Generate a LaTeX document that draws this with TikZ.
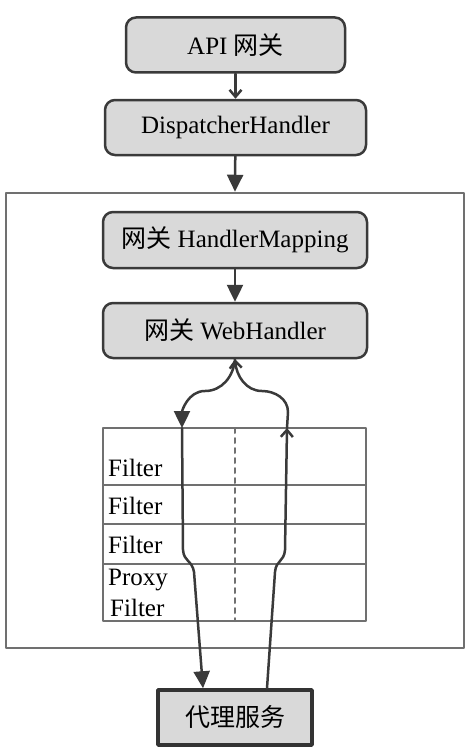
\documentclass[tikz,border=0pt]{standalone}
\usepackage{fontspec}
\setmainfont{Liberation Serif}
\newfontfamily\cjk{Noto Sans CJK SC}
\usetikzlibrary{arrows.meta}
\definecolor{boxfill}{HTML}{D9D9D9}
\definecolor{ink}{HTML}{3A3A3A}
\definecolor{rule}{HTML}{707070}
\tikzset{
  box/.style={draw=ink, fill=boxfill, line width=2.5pt, rounded corners=10pt, minimum height=55pt},
  frame/.style={draw=rule, line width=2.5pt},
  tbl/.style={draw=rule, line width=2pt},
  lbl/.style={inner sep=0pt, anchor=base west},
  flow/.style={draw=ink, line width=2.5pt},
  fat/.style={-{Triangle[length=17pt,width=16pt]}},
  thin/.style={-{Straight Barb[length=7pt,width=12pt]}}
}
\begin{document}
\begin{tikzpicture}[x=1pt, y=-1pt, font=\fontsize{25}{30}\selectfont, line join=round, line cap=round]
\def\xl{103}\def\xr{366}\def\yt{428}\def\yb{621}
\useasboundingbox (0,0) rectangle (474,752);
% boxes
\node[box, minimum width=219pt] (api) at (235.5,45) {API {\cjk 网关}};
\node[box, minimum width=261pt] (disp) at (235.5,127.5) {DispatcherHandler};
\node[frame, minimum width=458pt, minimum height=455pt] (gw) at (235,420.5) {};
\node[box, minimum width=264pt, minimum height=56pt] (map) at (235,240) {{\cjk 网关} HandlerMapping};
\node[box, minimum width=264pt] (web) at (235,330.5) {{\cjk 网关} WebHandler};
\node[box, rounded corners=0pt, line width=3.5pt, draw=black!80, minimum width=154pt] (proxy) at (235,717.5) {\cjk 代理服务};
% filter table
\draw[tbl] (\xl,\yt) rectangle (\xr,\yb);
\foreach \y in {485,524,564} \draw[tbl] (\xl,\y)--(\xr,\y);
\draw[tbl, dashed, dash pattern=on 5pt off 5pt] (235,\yt)--(235,\yb);
\node[lbl] (f1) at (108,476) {Filter};
\node[lbl] (f2) at (108,514) {Filter};
\node[lbl] (f3) at (108,553) {Filter};
\node[lbl] (px1) at (108,585) {Proxy};
\node[lbl] (px2) at (110,616) {Filter};
% flow
\coordinate (lin) at (182,428);
\coordinate (rin) at (287,428);
\draw[flow, thin] (api) -- (disp);
\draw[flow, fat] (disp) -- (gw.north);
\draw[flow, fat] (map) -- (web);
\draw[flow, fat] (web.south) to[out=-95,in=0] (205,391) to[out=180,in=90] (lin);
\draw[flow, fat] (lin) -- (183,550) .. controls (184,562) and (192,560) .. (194,572) -- ([xshift=-32pt]proxy.north);
\draw[flow, thin] ([xshift=32pt]proxy.north) -- (275,572) .. controls (276,560) and (284,562) .. (285,550) -- (rin);
\draw[flow, thin] (rin) -- (288,412) to[out=90,in=0] (262,391) to[out=180,in=-85] (web.south);
\end{tikzpicture}
\end{document}
